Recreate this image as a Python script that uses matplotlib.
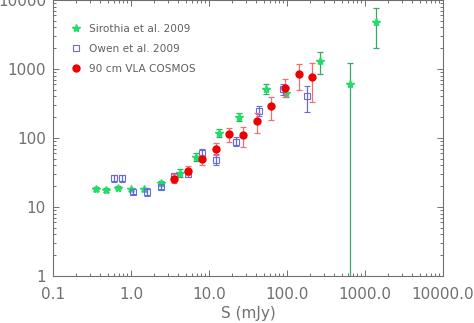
import matplotlib
matplotlib.use("Agg")
import matplotlib.pyplot as plt
from matplotlib.lines import Line2D
import numpy as np

# Sirothia et al. 2009
sir_S = [0.36, 0.48, 0.68, 1.0, 1.47, 2.45, 4.2, 6.8, 13.4, 24.5, 53.7, 97, 267, 645, 1380]
sir_N = [18.2, 17.6, 19, 18, 18, 22, 31, 52.5, 117, 203, 513, 454, 1318, 604, 4790]
sir_lo = [17.2, 16.6, 18, 17, 17, 20, 27, 47, 104, 178, 435, 389, 847, 0.01, 2040]
sir_hi = [19.2, 18.6, 20, 19, 19, 24, 35, 60, 134, 229, 612, 550, 1780, 1210, 7580]

# Owen et al. 2009
owen_S = [0.61, 0.76, 1.07, 1.59, 2.45, 3.56, 5.43, 8.05, 12.2, 22.2, 43.7, 89.5, 178]
owen_N = [26, 26, 16.7, 16.7, 19.7, 28.4, 30, 60, 48, 88, 246, 508, 405]
owen_lo = [23, 23, 15.5, 14.5, 18, 25.5, 27, 52.5, 40.6, 76, 208, 420, 240]
owen_hi = [29, 29, 18, 19, 21.5, 31.5, 33.5, 68.6, 58, 104, 291, 600, 573]

# 90 cm VLA COSMOS
vla_S = [3.58, 5.43, 8.2, 12.3, 18.2, 27.5, 41.2, 62.4, 93, 141, 209]
vla_N = [25.6, 33.5, 49.6, 68.6, 113, 110, 178, 290, 524, 836, 776]
vla_lo = [22, 29, 40.6, 56.6, 87, 73, 117, 182, 398, 496, 330]
vla_hi = [30, 39.6, 56.6, 84, 138, 145, 229, 398, 724, 1180, 1210]

xticks = [0.1, 1, 10, 100, 1000, 10000]
xticklabels = ["0.1", "1.0", "10.0", "100.0", "1000.0", "10000.0"]
yticks = [1, 10, 100, 1000, 10000]
yticklabels = ["1", "10", "100", "1000", "10000"]

labels = ["Sirothia et al. 2009", "Owen et al. 2009", "90 cm VLA COSMOS"]

gray = "#707070"
plt.rcParams['font.family'] = ['DejaVu Sans']

fig = plt.figure(figsize=(4.74, 3.23), dpi=100)
ax = fig.add_axes([53/474, 47/323, 390/474, 276/323])

def err(v, lo, hi):
    v = np.array(v, float)
    return [v - np.array(lo, float), np.array(hi, float) - v]

ax.errorbar(sir_S, sir_N, yerr=err(sir_N, sir_lo, sir_hi), fmt='*', ms=6,
            color='#22dd66', mec='#22dd66', ecolor='#33aa66', elinewidth=0.9,
            capsize=2.2, capthick=0.9, zorder=3)
ax.errorbar(owen_S, owen_N, yerr=err(owen_N, owen_lo, owen_hi), fmt='s', ms=4,
            mfc='none', mec='#6a6ae0', mew=0.8, ecolor='#6a6ae0', elinewidth=0.9,
            capsize=2.2, capthick=0.9, zorder=4)
ax.errorbar(vla_S, vla_N, yerr=err(vla_N, vla_lo, vla_hi), fmt='o', ms=5,
            color='#ee0000', mec='#ee0000', ecolor='#f07070', elinewidth=0.9,
            capsize=2.2, capthick=0.9, zorder=5)

ax.set_xscale('log')
ax.set_yscale('log')
ax.set_xlim(0.1, 10000)
ax.set_ylim(1, 10000)
ax.set_xticks(xticks)
ax.set_xticklabels(xticklabels)
ax.set_yticks(yticks)
ax.set_yticklabels(yticklabels)

ax.tick_params(which='both', direction='in', top=True, right=True, colors=gray,
               labelcolor=gray, labelsize=11)
ax.tick_params(which='major', length=4.5, width=0.7)
ax.tick_params(which='minor', length=2.2, width=0.7)
ax.tick_params(axis='x', pad=8)
ax.tick_params(axis='y', pad=5)
for s in ax.spines.values():
    s.set_color(gray)
    s.set_linewidth(0.8)

ax.set_xlabel("S (mJy)", fontsize=11, color=gray, labelpad=3)

handles = [
    Line2D([], [], ls='none', marker='*', ms=6, color='#22dd66'),
    Line2D([], [], ls='none', marker='s', ms=4, mfc='none', mec='#6a6ae0', mew=0.8),
    Line2D([], [], ls='none', marker='o', ms=5, color='#ee0000'),
]
leg = ax.legend(handles, labels, loc='upper left', bbox_to_anchor=(0.034, 0.930),
                frameon=False, fontsize=7.6, handlelength=1.0, handletextpad=0.75,
                labelspacing=0.95, borderaxespad=0)
for t in leg.get_texts():
    t.set_color('#606060')

fig.savefig("out.png", dpi=100)
